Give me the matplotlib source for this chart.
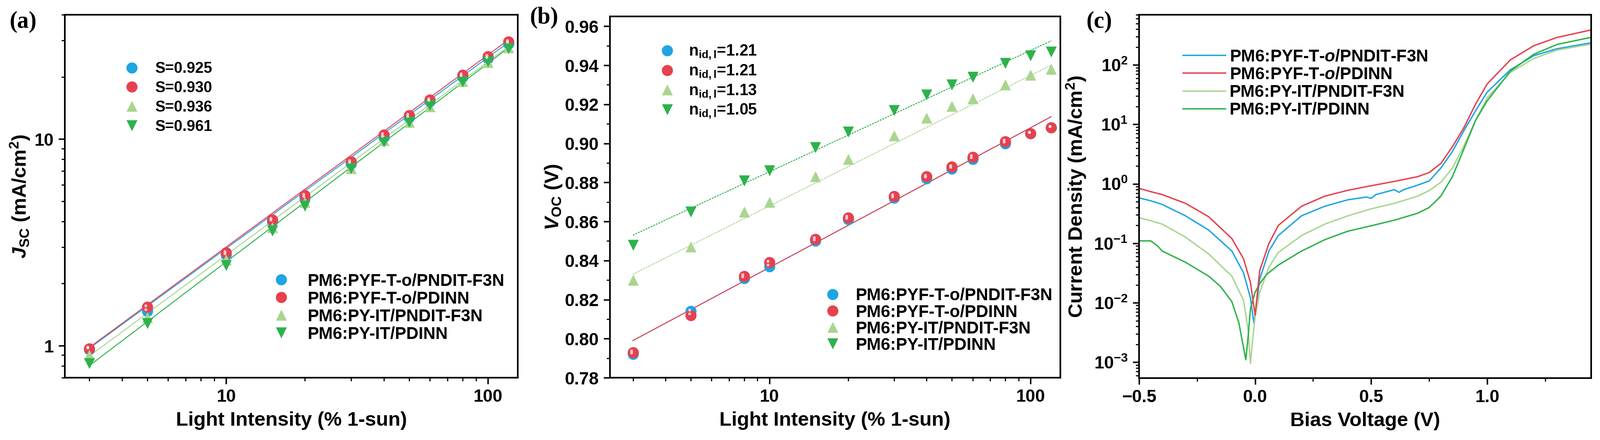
import numpy as np
import matplotlib
matplotlib.use("Agg")
import matplotlib.pyplot as plt
from matplotlib import ticker, transforms

# ---- datos ----
series_names = ["PM6:PYF-T-o/PNDIT-F3N", "PM6:PYF-T-o/PDINN",
                "PM6:PY-IT/PNDIT-F3N", "PM6:PY-IT/PDINN"]
series_names_c = ["PM6:PYF-T-$\\it{o}$/PNDIT-F3N", "PM6:PYF-T-$\\it{o}$/PDINN",
                  "PM6:PY-IT/PNDIT-F3N", "PM6:PY-IT/PDINN"]
colors = ["#1ea5e3", "#e6414f", "#a9d590", "#2db24b"]
markers = ["o", "o", "^", "v"]

# (a) Jsc vs intensidad
intensity_a = [3, 5, 10, 15, 20, 30, 40, 50, 60, 80, 100, 120]
jsc_blue = [0.96, 1.47, 2.75, 4.00, 5.20, 7.60, 10.2, 12.7, 15.2, 20.0, 24.5, 29.0]
jsc_red = [0.97, 1.54, 2.82, 4.07, 5.33, 7.76, 10.5, 13.0, 15.5, 20.4, 25.1, 29.6]
jsc_lgreen = [0.90, 1.37, 2.60, 3.74, 4.96, 7.20, 9.9, 12.1, 14.4, 19.1, 23.5, 27.7]
jsc_dgreen = [0.82, 1.28, 2.45, 3.60, 4.75, 7.20, 9.7, 12.1, 14.6, 19.0, 23.8, 27.5]
slopes_s = [0.925, 0.930, 0.936, 0.961]
fit_j0 = [0.97, 0.98, 0.89, 0.80]   # Jsc del ajuste a 3 % sol

# (b) Voc vs intensidad
intensity_b = [3, 5, 8, 10, 15, 20, 30, 40, 50, 60, 80, 100, 120]
voc_blue = [0.792, 0.814, 0.831, 0.837, 0.850, 0.861, 0.872, 0.882, 0.887, 0.892, 0.900, 0.905, 0.908]
voc_red = [0.793, 0.812, 0.832, 0.839, 0.851, 0.862, 0.873, 0.883, 0.888, 0.893, 0.901, 0.905, 0.908]
voc_lgreen = [0.830, 0.847, 0.865, 0.870, 0.883, 0.892, 0.904, 0.913, 0.919, 0.923, 0.930, 0.935, 0.938]
voc_dgreen = [0.848, 0.865, 0.881, 0.886, 0.898, 0.906, 0.917, 0.925, 0.930, 0.934, 0.941, 0.945, 0.947]
n_id = [1.21, 1.21, 1.13, 1.05]
fit_v0 = [0.799, 0.799, 0.833, 0.853]   # Voc del ajuste a 3 % sol
kT_q = 0.02569

# (c) curvas J-V en oscuridad
v_blue = [-0.5, -0.45, -0.4, -0.3, -0.2, -0.1, -0.05, -0.02, -0.005, 0.02, 0.06, 0.1, 0.2, 0.3, 0.4,
          0.48, 0.5, 0.52, 0.6, 0.62, 0.64, 0.7, 0.75, 0.8, 0.85, 0.9, 0.95, 1.0, 1.1, 1.2, 1.3, 1.45]
j_blue = [0.58, 0.52, 0.45, 0.29, 0.167, 0.074, 0.032, 0.012, 0.0045, 0.025, 0.075, 0.135, 0.29, 0.42, 0.54,
          0.60, 0.57, 0.66, 0.80, 0.72, 0.80, 0.95, 1.12, 1.84, 3.5, 7.9, 17, 35, 83, 143, 187, 237]
v_red = [-0.5, -0.45, -0.4, -0.3, -0.2, -0.1, -0.05, -0.02, 0.0, 0.02, 0.06, 0.1, 0.2, 0.3, 0.4,
         0.5, 0.6, 0.7, 0.75, 0.8, 0.85, 0.9, 0.95, 1.0, 1.1, 1.2, 1.3, 1.45]
j_red = [0.84, 0.74, 0.66, 0.47, 0.28, 0.12, 0.055, 0.022, 0.0062, 0.035, 0.10, 0.20, 0.42, 0.62, 0.78,
         0.93, 1.10, 1.32, 1.55, 2.2, 4.2, 8.9, 22, 48, 122, 210, 290, 390]
v_lgreen = [-0.5, -0.45, -0.4, -0.3, -0.2, -0.1, -0.05, -0.03, -0.02, -0.01, 0.0, 0.02, 0.06, 0.1, 0.2,
            0.3, 0.4, 0.5, 0.6, 0.7, 0.75, 0.8, 0.85, 0.9, 0.95, 1.0, 1.1, 1.2, 1.3, 1.45]
j_lgreen = [0.27, 0.24, 0.21, 0.127, 0.066, 0.028, 0.011, 0.0035, 0.00095, 0.0025, 0.0057, 0.015, 0.04, 0.07, 0.135,
            0.21, 0.29, 0.38, 0.47, 0.62, 0.77, 1.06, 1.84, 4.4, 11.7, 28, 75, 128, 178, 225]
v_dgreen = [-0.5, -0.45, -0.42, -0.4, -0.3, -0.2, -0.15, -0.1, -0.07, -0.04, -0.03, -0.02, 0.0, 0.02, 0.05,
            0.1, 0.2, 0.3, 0.4, 0.5, 0.6, 0.7, 0.75, 0.8, 0.85, 0.9, 0.95, 1.0, 1.1, 1.2, 1.3, 1.45]
j_dgreen = [0.11, 0.11, 0.09, 0.074, 0.048, 0.028, 0.019, 0.0104, 0.0046, 0.0011, 0.0027, 0.008, 0.015, 0.021, 0.03,
            0.043, 0.074, 0.115, 0.16, 0.197, 0.245, 0.32, 0.40, 0.62, 1.32, 3.9, 11.7, 25, 79, 151, 221, 293]

# ---- estilo ----
plt.rcParams["font.family"] = ["Liberation Sans", "DejaVu Sans"]
plt.rcParams["font.weight"] = "bold"
plt.rcParams["axes.labelweight"] = "bold"
plt.rcParams["mathtext.fontset"] = "custom"
plt.rcParams["mathtext.rm"] = "Liberation Sans:bold"
plt.rcParams["mathtext.it"] = "Liberation Sans:italic:bold"
plt.rcParams["mathtext.bf"] = "Liberation Sans:bold"
plt.rcParams["axes.linewidth"] = 2.8
plt.rcParams["axes.unicode_minus"] = True

fig = plt.figure(figsize=(38.01, 10.45), dpi=100)
ax_a = fig.add_axes([0.0405, 0.1416, 0.2831, 0.8249])
ax_b = fig.add_axes([0.3812, 0.1416, 0.2815, 0.8210])
ax_c = fig.add_axes([0.7119, 0.1407, 0.2826, 0.8258])


def estilo_ejes(ax):
    ax.tick_params(which="major", direction="out", length=11, width=2.5, labelsize=30, pad=8,
                   top=False, right=False)
    ax.tick_params(which="minor", direction="out", length=6, width=2.0, top=False, right=False)


def esfera(ax, x, y):
    # brillo blanco para imitar las esferas
    off = transforms.ScaledTranslation(-0.035, 0.035, fig.dpi_scale_trans)
    ax.plot(x, y, "o", ms=5, color="white", alpha=0.7, mec="none", transform=ax.transData + off, zorder=6)


# ---- (a) ----
jsc_all = [jsc_blue, jsc_red, jsc_lgreen, jsc_dgreen]
xf = np.geomspace(intensity_a[0], intensity_a[-1], 50)
for i in [2, 3, 0, 1]:
    ax_a.plot(xf, fit_j0[i] * (xf / xf[0]) ** slopes_s[i], color=colors[i], lw=1.6, zorder=2)
handles_a = [None] * 4
for i in [2, 3, 0, 1]:
    h, = ax_a.plot(intensity_a, jsc_all[i], linestyle="none", marker=markers[i], ms=19,
                   mfc=colors[i], mec="none", zorder=4 + i * 0.1)
    handles_a[i] = h
    if markers[i] == "o":
        esfera(ax_a, intensity_a, jsc_all[i])
ax_a.set_xscale("log")
ax_a.set_yscale("log")
ax_a.set_xlim(2.42, 130)
ax_a.set_ylim(0.70, 40)
ax_a.xaxis.set_major_formatter(ticker.FuncFormatter(lambda v, p: "%g" % v))
ax_a.yaxis.set_major_formatter(ticker.FuncFormatter(lambda v, p: "%g" % v))
ax_a.xaxis.set_minor_formatter(ticker.NullFormatter())
ax_a.yaxis.set_minor_formatter(ticker.NullFormatter())
estilo_ejes(ax_a)
ax_a.set_xlabel("Light Intensity (% 1-sun)", fontsize=34, labelpad=10)
ax_a.set_ylabel("$\\it{J}_{\\rm SC}$ (mA/cm$^{2}$)", fontsize=34, labelpad=4)

leg1 = ax_a.legend(handles_a, ["S=%.3f" % s for s in slopes_s], loc="upper left",
                   bbox_to_anchor=(0.114, 0.892), frameon=False, fontsize=26, borderpad=0,
                   handlelength=1.0, handletextpad=1.05, labelspacing=0.3)
ax_a.add_artist(leg1)
ax_a.legend(handles_a, series_names, loc="upper left", bbox_to_anchor=(0.44, 0.312),
            frameon=False, fontsize=29, borderpad=0, handlelength=1.0, handletextpad=1.05,
            labelspacing=0.1)

# ---- (b) ----
voc_all = [voc_blue, voc_red, voc_lgreen, voc_dgreen]
xf_b = np.geomspace(intensity_b[0], intensity_b[-1], 50)
fit_styles = ["-", "-", (0, (2, 1)), (0, (2, 1))]
for i in [2, 3, 0, 1]:
    ax_b.plot(xf_b, fit_v0[i] + n_id[i] * kT_q * np.log(xf_b / xf_b[0]), color=colors[i],
              lw=1.6, ls=fit_styles[i], zorder=2)
handles_b = [None] * 4
for i in [2, 3, 0, 1]:
    h, = ax_b.plot(intensity_b, voc_all[i], linestyle="none", marker=markers[i], ms=19,
                   mfc=colors[i], mec="none", zorder=4 + i * 0.1)
    handles_b[i] = h
    if markers[i] == "o":
        esfera(ax_b, intensity_b, voc_all[i])
ax_b.set_xscale("log")
ax_b.set_xlim(2.45, 130)
ax_b.set_ylim(0.78, 0.965)
ax_b.yaxis.set_major_locator(ticker.MultipleLocator(0.02))
ax_b.yaxis.set_minor_locator(ticker.MultipleLocator(0.01))
ax_b.yaxis.set_major_formatter(ticker.FormatStrFormatter("%.2f"))
ax_b.xaxis.set_major_formatter(ticker.FuncFormatter(lambda v, p: "%g" % v))
ax_b.xaxis.set_minor_formatter(ticker.NullFormatter())
estilo_ejes(ax_b)
ax_b.set_xlabel("Light Intensity (% 1-sun)", fontsize=34, labelpad=10)
ax_b.set_ylabel("$\\it{V}_{\\rm OC}$ (V)", fontsize=34, labelpad=2)

leg3 = ax_b.legend(handles_b, ["n$_{\\rm id,l}$=%.2f" % n for n in n_id], loc="upper left",
                   bbox_to_anchor=(0.0925, 0.946), frameon=False, fontsize=27, borderpad=0,
                   handlelength=1.0, handletextpad=0.85, labelspacing=0.15)
ax_b.add_artist(leg3)
ax_b.legend(handles_b, series_names, loc="upper left", bbox_to_anchor=(0.457, 0.273),
            frameon=False, fontsize=29, borderpad=0, handlelength=1.0, handletextpad=0.85,
            labelspacing=0.03)

# ---- (c) ----
v_all = [v_blue, v_red, v_lgreen, v_dgreen]
j_all = [j_blue, j_red, j_lgreen, j_dgreen]
handles_c = [None] * 4
for i in [0, 2, 3, 1]:
    h, = ax_c.plot(v_all[i], j_all[i], color=colors[i], lw=2.4)
    handles_c[i] = h
ax_c.set_yscale("log")
ax_c.set_xlim(-0.5, 1.448)
ax_c.set_ylim(5.4e-4, 700)
ax_c.xaxis.set_major_locator(ticker.MultipleLocator(0.5))
ax_c.xaxis.set_minor_locator(ticker.MultipleLocator(0.25))
ax_c.xaxis.set_major_formatter(ticker.FuncFormatter(lambda v, p: ("%.1f" % v).replace("-", "\u2212")))
ax_c.yaxis.set_major_locator(ticker.LogLocator(base=10, numticks=12))
ax_c.yaxis.set_minor_locator(ticker.LogLocator(base=10, subs=np.arange(2, 10), numticks=12))
ax_c.yaxis.set_minor_formatter(ticker.NullFormatter())
estilo_ejes(ax_c)
ax_c.set_xlabel("Bias Voltage (V)", fontsize=34, labelpad=10)
ax_c.set_ylabel("Current Density (mA/cm$^{2}$)", fontsize=34, labelpad=10)
ax_c.legend(handles_c, series_names_c, loc="upper left", bbox_to_anchor=(0.078, 0.93),
            frameon=False, fontsize=29, borderpad=0, handlelength=2.5, handletextpad=0.25,
            labelspacing=0.1)

# etiquetas de panel
for x, y, t in [(0.006, 0.975, "(a)"), (0.331, 0.985, "(b)"), (0.679, 0.975, "(c)")]:
    fig.text(x, y, t, fontsize=40, fontweight="bold", family=["Liberation Serif", "DejaVu Serif"],
             va="top", ha="left")

plt.savefig("out.png", dpi=100)
